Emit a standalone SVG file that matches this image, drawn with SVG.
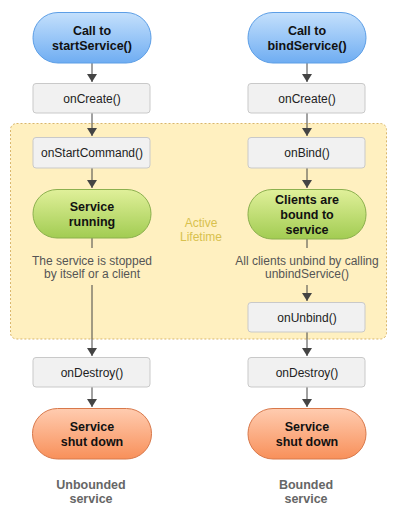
<svg xmlns="http://www.w3.org/2000/svg" width="401" height="512" viewBox="0 0 401 512">
<defs>
<linearGradient id="gBlue" x1="0" y1="0" x2="0" y2="1"><stop offset="0" stop-color="#c4e0fc"/><stop offset="1" stop-color="#6fadf2"/></linearGradient>
<linearGradient id="gGreen" x1="0" y1="0" x2="0" y2="1"><stop offset="0" stop-color="#e0f09a"/><stop offset="1" stop-color="#a2cc52"/></linearGradient>
<linearGradient id="gOrange" x1="0" y1="0" x2="0" y2="1"><stop offset="0" stop-color="#ffccb0"/><stop offset="1" stop-color="#f8905a"/></linearGradient>
<marker id="arr" viewBox="0 0 8 10" refX="8" refY="5" markerWidth="8" markerHeight="10" orient="auto" markerUnits="userSpaceOnUse"><path d="M0,0 L8,5 L0,10 z" fill="#444"/></marker>
</defs>
<style>
.box{fill:#f1f1f1;stroke:#c9c9c9;stroke-width:1}
.blue{fill:url(#gBlue);stroke:#5c9ee6;stroke-width:1}
.green{fill:url(#gGreen);stroke:#8cb04e;stroke-width:1}
.orange{fill:url(#gOrange);stroke:#d8784a;stroke-width:1}
.t{font-family:"Liberation Sans",Arial,sans-serif;font-size:12px;text-anchor:middle;fill:#222}
.b{font-weight:bold;font-size:12.5px;fill:#111}
.g{fill:#555}
.lbl{font-family:"Liberation Sans",Arial,sans-serif;font-size:12.5px;font-weight:bold;text-anchor:middle;fill:#666}
.act{font-family:"Liberation Sans",Arial,sans-serif;font-size:12px;text-anchor:middle;fill:#d8c14e}
.c{stroke:#444;stroke-width:1;fill:none;marker-end:url(#arr)}
.l{stroke:#444;stroke-width:1;fill:none}
</style>
<rect width="401" height="512" fill="#fff"/>
<g id="active-lifetime">
<rect x="10.5" y="123.5" width="376" height="215.5" rx="6" fill="#fff0c0" stroke="#d9b66a" stroke-width="1" stroke-dasharray="2,2"/>
<text class="act" x="201" y="227">Active</text>
<text class="act" x="201" y="241">Lifetime</text>
</g>
<g id="connectors">
<line class="c" x1="92" y1="63" x2="92" y2="82"/>
<line class="c" x1="92" y1="113" x2="92" y2="136"/>
<line class="c" x1="92" y1="168" x2="92" y2="188"/>
<line class="l" x1="92" y1="238" x2="92" y2="248"/>
<line class="c" x1="92" y1="285" x2="92" y2="356"/>
<line class="c" x1="92" y1="387" x2="92" y2="407"/>
<line class="c" x1="307" y1="63" x2="307" y2="82"/>
<line class="c" x1="307" y1="113" x2="307" y2="136"/>
<line class="c" x1="307" y1="168" x2="307" y2="188"/>
<line class="l" x1="307" y1="239" x2="307" y2="248"/>
<line class="c" x1="307" y1="285" x2="307" y2="301"/>
<line class="c" x1="307" y1="332" x2="307" y2="356"/>
<line class="c" x1="307" y1="387" x2="307" y2="407"/>
</g>
<g id="call-start"><rect class="blue" x="33" y="12.5" width="118" height="50.5" rx="25"/><text class="t b" x="92" y="35">Call to</text><text class="t b" x="92" y="50">startService()</text></g>
<g id="call-bind"><rect class="blue" x="248" y="12.5" width="118" height="50.5" rx="25"/><text class="t b" x="307" y="35">Call to</text><text class="t b" x="307" y="50">bindService()</text></g>
<g id="oncreate-left"><rect class="box" x="33" y="83.5" width="117" height="29.5" rx="3"/><text class="t" x="92" y="102.5">onCreate()</text></g>
<g id="oncreate-right"><rect class="box" x="248" y="83.5" width="117" height="29.5" rx="3"/><text class="t" x="307" y="102.5">onCreate()</text></g>
<g id="onstartcommand"><rect class="box" x="33" y="137.5" width="117" height="30.5" rx="3"/><text class="t" x="92" y="157">onStartCommand()</text></g>
<g id="onbind"><rect class="box" x="248" y="137.5" width="117" height="30.5" rx="3"/><text class="t" x="307" y="157">onBind()</text></g>
<g id="service-running"><rect class="green" x="33" y="189.5" width="118" height="48.5" rx="24"/><text class="t b" x="92" y="211">Service</text><text class="t b" x="92" y="226">running</text></g>
<g id="clients-bound"><rect class="green" x="248" y="189.5" width="118" height="49.5" rx="24"/><text class="t b" x="307" y="204">Clients are</text><text class="t b" x="307" y="219">bound to</text><text class="t b" x="307" y="234">service</text></g>
<g id="stopped-note"><text class="t g" x="92" y="264.5">The service is stopped</text><text class="t g" x="92" y="278">by itself or a client</text></g>
<g id="unbind-note"><text class="t g" x="307" y="264.5">All clients unbind by calling</text><text class="t g" x="307" y="278">unbindService()</text></g>
<g id="onunbind"><rect class="box" x="248" y="302.5" width="117" height="29.5" rx="3"/><text class="t" x="307" y="321.5">onUnbind()</text></g>
<g id="ondestroy-left"><rect class="box" x="33" y="357.5" width="117" height="29.5" rx="3"/><text class="t" x="92" y="376.5">onDestroy()</text></g>
<g id="ondestroy-right"><rect class="box" x="248" y="357.5" width="117" height="29.5" rx="3"/><text class="t" x="307" y="376.5">onDestroy()</text></g>
<g id="shutdown-left"><rect class="orange" x="32.5" y="408.5" width="119" height="50.5" rx="25"/><text class="t b" x="92" y="431">Service</text><text class="t b" x="92" y="446">shut down</text></g>
<g id="shutdown-right"><rect class="orange" x="248" y="408.5" width="118" height="50.5" rx="25"/><text class="t b" x="307" y="431">Service</text><text class="t b" x="307" y="446">shut down</text></g>
<g id="label-unbounded"><text class="lbl" x="91" y="489">Unbounded</text><text class="lbl" x="91" y="503">service</text></g>
<g id="label-bounded"><text class="lbl" x="306" y="489">Bounded</text><text class="lbl" x="306" y="503">service</text></g>
</svg>
